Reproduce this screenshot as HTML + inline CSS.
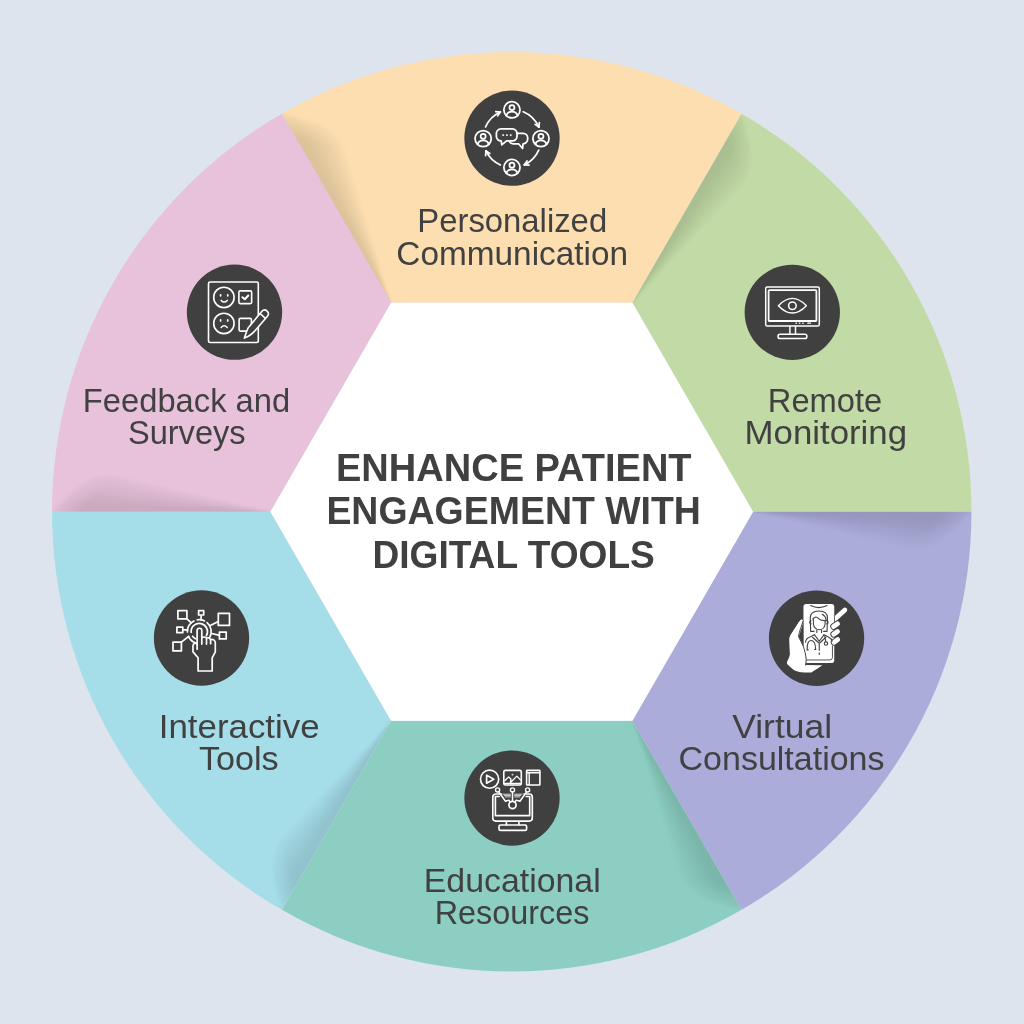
<!DOCTYPE html>
<html><head><meta charset="utf-8"><title>Enhance Patient Engagement with Digital Tools</title>
<style>
html,body{margin:0;padding:0;background:#dde4ed;}
body{width:1024px;height:1024px;overflow:hidden;font-family:"Liberation Sans",sans-serif;}
svg{display:block;will-change:transform}
.lbl text{font-family:"Liberation Sans",sans-serif;font-size:32.5px;fill:#414141;text-anchor:middle}
.ttl text{font-family:"Liberation Sans",sans-serif;font-size:39px;font-weight:700;fill:#404040;text-anchor:middle}
.ic{fill:none;stroke:#fff;stroke-linecap:round;stroke-linejoin:round}
</style></head><body>
<svg width="1024" height="1024" viewBox="0 0 1024 1024">
<defs>
<linearGradient id="shm" gradientUnits="userSpaceOnUse" x1="972" y1="512" x2="957.6" y2="498.1">
<stop offset="0" stop-color="#fff" stop-opacity="0.25"/><stop offset="1" stop-color="#fff" stop-opacity="1"/>
</linearGradient>
<mask id="shmask" maskUnits="userSpaceOnUse" x="700" y="440" width="320" height="160"><rect x="700" y="440" width="320" height="160" fill="url(#shm)"/></mask>
<filter id="blur" x="-20%" y="-50%" width="140%" height="200%"><feGaussianBlur stdDeviation="1.7"/></filter>
<clipPath id="ring"><circle cx="511.75" cy="511.75" r="459.7"/></clipPath>
<clipPath id="half"><rect x="700" y="512" width="300" height="80"/></clipPath>
<clipPath id="redge"><path d="M973,511 L952,531.5 Q933,550 910,549.5 L700,600 L700,470 L990,470 Z"/></clipPath>
<g id="sh" clip-path="url(#half)"><g filter="url(#blur)"><g mask="url(#shmask)" clip-path="url(#redge)" fill="#000" fill-opacity="0.0176"><polygon points="754,512 754,470 1000,470 1000,524.89"/><polygon points="754,512 754,470 1000,470 1000,529.78"/><polygon points="754,512 754,470 1000,470 1000,534.68"/><polygon points="754,512 754,470 1000,470 1000,539.59"/><polygon points="754,512 754,470 1000,470 1000,544.53"/><polygon points="754,512 754,470 1000,470 1000,549.50"/><polygon points="754,512 754,470 1000,470 1000,554.49"/><polygon points="754,512 754,470 1000,470 1000,559.52"/><polygon points="754,512 754,470 1000,470 1000,564.59"/><polygon points="754,512 754,470 1000,470 1000,569.70"/></g></g></g>
</defs>
<rect width="1024" height="1024" fill="#dde4ed"/>
<path d="M391.10,302.78 L281.90,113.64 A459.7,459.7 0 0 1 741.60,113.64 L632.40,302.78 Z" fill="#fcdeb0"/><path d="M632.40,302.78 L741.60,113.64 A459.7,459.7 0 0 1 971.45,511.75 L753.05,511.75 Z" fill="#c2daa5"/><path d="M753.05,511.75 L971.45,511.75 A459.7,459.7 0 0 1 741.60,909.86 L632.40,720.72 Z" fill="#abacda"/><path d="M632.40,720.72 L741.60,909.86 A459.7,459.7 0 0 1 281.90,909.86 L391.10,720.72 Z" fill="#8ccfc2"/><path d="M391.10,720.72 L281.90,909.86 A459.7,459.7 0 0 1 52.05,511.75 L270.45,511.75 Z" fill="#a5dde9"/><path d="M270.45,511.75 L52.05,511.75 A459.7,459.7 0 0 1 281.90,113.64 L391.10,302.78 Z" fill="#e7c2da"/>
<g clip-path="url(#ring)"><use href="#sh" transform="rotate(0 511.75 511.75) translate(-0.25 -0.25)"/><use href="#sh" transform="rotate(60 511.75 511.75) translate(-0.25 -0.25)"/><use href="#sh" transform="rotate(120 511.75 511.75) translate(-0.25 -0.25)"/><use href="#sh" transform="rotate(180 511.75 511.75) translate(-0.25 -0.25)"/><use href="#sh" transform="rotate(240 511.75 511.75) translate(-0.25 -0.25)"/><use href="#sh" transform="rotate(300 511.75 511.75) translate(-0.25 -0.25)"/></g>
<polygon points="753.05,511.75 632.40,720.72 391.10,720.72 270.45,511.75 391.10,302.78 632.40,302.78" fill="#ffffff"/>
<g class="ttl"><text x="513.8" y="480.8" textLength="355.6" lengthAdjust="spacingAndGlyphs">ENHANCE PATIENT</text><text x="513.65" y="524.4" textLength="374.5" lengthAdjust="spacingAndGlyphs">ENGAGEMENT WITH</text><text x="513.65" y="567.9" textLength="282.4" lengthAdjust="spacingAndGlyphs">DIGITAL TOOLS</text></g>
<g class="lbl"><text x="512.23" y="232.05" textLength="189.83" lengthAdjust="spacingAndGlyphs">Personalized</text><text x="512.23" y="264.75" textLength="231.75" lengthAdjust="spacingAndGlyphs">Communication</text><text x="825.05" y="412.4" textLength="114.52" lengthAdjust="spacingAndGlyphs">Remote</text><text x="825.8" y="443.5" textLength="162.6" lengthAdjust="spacingAndGlyphs">Monitoring</text><text x="782.17" y="737.8" textLength="99.9" lengthAdjust="spacingAndGlyphs">Virtual</text><text x="781.52" y="769.5" textLength="205.93" lengthAdjust="spacingAndGlyphs">Consultations</text><text x="512.23" y="892.45" textLength="177.01" lengthAdjust="spacingAndGlyphs">Educational</text><text x="512.0" y="923.55" textLength="154.69" lengthAdjust="spacingAndGlyphs">Resources</text><text x="239.18" y="738.0" textLength="160.85" lengthAdjust="spacingAndGlyphs">Interactive</text><text x="238.8" y="770.0" textLength="79.71" lengthAdjust="spacingAndGlyphs">Tools</text><text x="186.53" y="412.3" textLength="207.29" lengthAdjust="spacingAndGlyphs">Feedback and</text><text x="186.78" y="444.4" textLength="117.73" lengthAdjust="spacingAndGlyphs">Surveys</text></g>
<g id="icons">
<g transform="translate(512,138.2)"><circle r="47.65" fill="#404040"/><g class="ic" stroke-width="1.75" transform="translate(0.15,0.3)"><g transform="translate(-0.2,-28.7)"><circle r="8.1"/><circle cy="-2.3" r="2.5"/><path d="M-5.6,5.8 A5.8,5.4 0 0 1 5.6,5.8"/></g><g transform="translate(28.8,0.1)"><circle r="8.1"/><circle cy="-2.3" r="2.5"/><path d="M-5.6,5.8 A5.8,5.4 0 0 1 5.6,5.8"/></g><g transform="translate(-0.2,29.0)"><circle r="8.1"/><circle cy="-2.3" r="2.5"/><path d="M-5.6,5.8 A5.8,5.4 0 0 1 5.6,5.8"/></g><g transform="translate(-29.0,0.1)"><circle r="8.1"/><circle cy="-2.3" r="2.5"/><path d="M-5.6,5.8 A5.8,5.4 0 0 1 5.6,5.8"/></g><path d="M-26.59,-11.56 A29.0,29.0 0 0 1 -11.80,-26.49"/><path d="M-11.80,-26.49 L-14.50,-22.77"/><path d="M-11.80,-26.49 L-16.37,-26.97"/><path d="M11.10,-26.79 A29.0,29.0 0 0 1 26.69,-11.33"/><path d="M26.69,-11.33 L23.02,-14.10"/><path d="M26.69,-11.33 L27.26,-15.90"/><path d="M26.59,11.56 A29.0,29.0 0 0 1 12.26,26.28"/><path d="M12.26,26.28 L14.89,22.51"/><path d="M12.26,26.28 L16.84,26.68"/><path d="M-11.80,26.49 A29.0,29.0 0 0 1 -26.17,12.48"/><path d="M-26.17,12.48 L-22.38,15.09"/><path d="M-26.17,12.48 L-26.54,17.07"/><path d="M-11.2,-9.6 H0.3 A4.6,4.6 0 0 1 4.9,-5 V-2.2 A4.6,4.6 0 0 1 0.3,2.4 H-5.6 L-10.4,6.4 L-10.9,2.4 H-11.2 A4.6,4.6 0 0 1 -15.8,-2.2 V-5 A4.6,4.6 0 0 1 -11.2,-9.6 Z"/><path d="M4.7,-5.2 H11 A4.5,4.5 0 0 1 15.5,-0.7 V0.8 A4.5,4.5 0 0 1 11,5.3 H10.9 L10.4,10 L6.4,5.3 H1 A4.5,4.5 0 0 1 -2.6,3.2"/><circle cx="-9.1" cy="-3.4" r="0.55" fill="#fff" stroke-width="0.7"/><circle cx="-5.3" cy="-3.4" r="0.55" fill="#fff" stroke-width="0.7"/><circle cx="-1.5" cy="-3.4" r="0.55" fill="#fff" stroke-width="0.7"/></g></g>
<g transform="translate(792.3,312.3)"><circle r="47.65" fill="#404040"/><g class="ic" stroke-width="1.5"><rect x="-26.6" y="-25.4" width="53.6" height="39.2" rx="1.6"/><rect x="-23.7" y="-22.2" width="47.8" height="30.9" rx="0.8" stroke-width="1.8"/><path d="M-13.9,-6.6 Q0,-21.2 14.1,-6.6 Q0,8 -13.9,-6.6 Z" stroke-width="1.4"/><circle cx="0.1" cy="-6.6" r="3.8" stroke-width="1.5"/><path d="M-2.4,14 V21.6 M3.2,14 V21.6"/><rect x="-14.3" y="22" width="28.9" height="4.2" rx="2.1"/><path d="M3.6,10.9 H4.2 M7,10.9 H7.6 M10.4,10.9 H11 M15.5,10.9 H18.2" stroke-width="1.2"/></g></g>
<g transform="translate(816.55,638.25)"><circle r="47.65" fill="#404040"/><path d="M17,-18 L28.3,-28.3" stroke="#fff" stroke-width="4.8" stroke-linecap="round" fill="none"/><path d="M-14.6,-18.8 C-15.6,-18.6 -16.5,-17.8 -17.4,-16.4 L-26.2,-2.8 C-26.9,-1.6 -27.1,-0.2 -27.1,1.3 L-26.6,16.2 C-26.7,19 -28.6,21.6 -29.6,24.2 C-29.8,25.2 -29.2,26 -28.4,26.8 C-26.5,28.9 -24.5,30.6 -22.3,31.9 C-17,34.2 -10.5,34.5 -5.2,34.2 C-1,31.6 2.6,29.4 5.8,27.1 L-10.6,26.7 L-8,10 L-13,-15 Z" fill="#fff"/><rect x="-13.1" y="-34.2" width="30.8" height="58.9" rx="2.8" fill="#fff" stroke="#404040" stroke-width="1.6" paint-order="stroke"/><path d="M-14.6,-18.8 C-15.6,-18.6 -16.5,-17.8 -17.4,-16.4 L-26.2,-2.8 C-26.9,-1.6 -27.1,-0.2 -27.1,1.3 L-26.6,16.2 C-26.7,19 -28.6,21.6 -29.6,24.2 L-22,30 L-11,27.2 L-10.3,21.6 C-10.8,16 -11.9,12 -13.2,8.2 C-14.6,4.6 -16.6,1.4 -18.1,-1.8 C-17,-7 -15.2,-12 -13.6,-16.8 C-13.5,-18 -13.9,-18.8 -14.6,-18.8 Z" fill="#fff"/><path d="M-13.4,-17.4 C-15.2,-12 -17,-7 -18.1,-1.8 C-16.6,1.4 -14.6,4.6 -13.2,8.2 C-11.9,12 -10.8,16 -10.3,21.6 L-10.9,26.9" fill="none" stroke="#404040" stroke-width="1" stroke-linecap="round"/><path d="M-13.2,-15.5 L-17.8,-1.8 L-13.2,7.6 Z" fill="#404040"/><path d="M-10.6,25.6 H4" stroke="#404040" stroke-width="0.5" fill="none"/><path d="M17.0,-11.8 L21.0,-14.5" stroke="#404040" stroke-width="6.6" stroke-linecap="round" fill="none"/><path d="M17.1,-4.0 L21.0,-6.7" stroke="#404040" stroke-width="6.6" stroke-linecap="round" fill="none"/><path d="M17.5,4.0 L21.2,1.3" stroke="#404040" stroke-width="6.6" stroke-linecap="round" fill="none"/><path d="M17.0,-11.8 L21.0,-14.5" stroke="#fff" stroke-width="4.8" stroke-linecap="round" fill="none"/><path d="M17.1,-4.0 L21.0,-6.7" stroke="#fff" stroke-width="4.8" stroke-linecap="round" fill="none"/><path d="M17.5,4.0 L21.2,1.3" stroke="#fff" stroke-width="4.8" stroke-linecap="round" fill="none"/><g fill="none" stroke="#404040" stroke-width="1.1" stroke-linecap="round" stroke-linejoin="round"><path d="M-5.9,-32.7 Q2.3,-28.6 10.5,-32.7"/><path d="M-9.8,21.7 H13.4 Q15.9,21.6 15.9,19.2 V7.8" stroke-width="0.9"/><path d="M-2.5,-6.9 H-5.9 L-6.3,-20.4 C-6.2,-25.4 -2.5,-27.3 2.6,-27.3 C7.6,-27.3 10.9,-25 10.9,-20.4 L10.5,-6.9 H7"/><path d="M-3.3,-19.5 L-3.1,-14 C-2.8,-10.2 0.3,-8.5 2.7,-8.5 C5.2,-8.5 8.2,-10.2 8.5,-14 L8.6,-17.6"/><path d="M-3.6,-19.4 C-1.5,-22 0.5,-21.6 2,-19.6 C4,-17.4 7,-17.4 9.8,-17.8"/><path d="M5.6,-24 C8,-22.8 9.3,-20.6 9.6,-18.4"/><path d="M-5.6,-17.4 C-7.4,-17.6 -7.4,-14.4 -5.4,-14.4 M10.3,-17.4 C12,-17.6 12,-14.4 10.2,-14.4"/><path d="M0.3,-8.3 V-5.8 M5,-8.3 V-5.8"/><path d="M-11,4 C-10.8,0.5 -9,-0.4 -6,-1.4 L-2,-3.4 M7.4,-3.4 L12,-1.2 C14,-0.2 15.2,1 15.4,3"/><path d="M-2,-3.4 L2.7,3 L7.4,-3.4 M-4,-1 L2,4.5 M9.3,-1 L3.5,4.5"/><path d="M2.7,4.6 V12 M2.7,14.5 V16.2"/><path d="M-9.4,11.6 C-9.6,6 -8.4,2.2 -5.5,2.2 C-2.6,2.2 -1,6 -0.9,11.2 M-9.6,11.6 H-8.2 M-2,11.2 H-0.6"/><path d="M8.2,-2.5 L9.2,3.4"/><circle cx="9.4" cy="5.3" r="1.7"/></g></g>
<g transform="translate(512,798.1)"><circle r="47.65" fill="#404040"/><g class="ic" stroke-width="1.65"><circle cx="-22.4" cy="-18.9" r="9.1"/><path d="M-25.4,-23 V-14.8 L-18.2,-18.9 Z"/><rect x="-8.2" y="-27.7" width="17.5" height="14.6" rx="1.5" stroke-width="1.6"/><path d="M-7,-17.6 L-3.3,-21.2 L-1,-18.8 L-1.6,-16 M-1.2,-15.9 L4.9,-22 L8.4,-18.2 M-7.4,-14.6 H8.6" stroke-width="1.3"/><circle cx="0.3" cy="-23.4" r="0.5" fill="#fff" stroke-width="0.6"/><rect x="14.6" y="-27.7" width="13.3" height="14.6" rx="0.6" stroke-width="1.6"/><path d="M14.8,-25.4 H27.8 M17.2,-25.2 V-13.3" stroke-width="1.4"/><circle cx="-14.4" cy="-8.2" r="2.05" stroke-width="1.4"/><circle cx="0.5" cy="-8.2" r="2.05" stroke-width="1.4"/><circle cx="15.6" cy="-8.2" r="2.05" stroke-width="1.4"/><path d="M-13.1,-5.9 L-6.5,3.2 L-3.1,2 L-1.9,4 M0.5,-6 V3 M14.4,-5.9 L7.9,3.2 L4.3,2 L3,4" stroke-width="1.5"/><circle cx="0.5" cy="6.9" r="3.6" stroke-width="1.7"/><path d="M-10.6,-4.1 H-16.2 A3,3 0 0 0 -19.2,-1.1 V20 A3,3 0 0 0 -16.2,23 H17.3 A3,3 0 0 0 20.3,20 V-1.1 A3,3 0 0 0 17.3,-4.1 H12"/><path d="M-12.8,-1.6 H-16.6 V17.6 H17.7 V-1.6 H14.2"/><path d="M-9,-3.9 H-1.6 M-7.9,-2.7 H-1.6 M-6.8,-1.2 H-1.6 M2.6,-3.9 H10 M2.6,-2.7 H8.9 M2.6,-1.2 H7.8" stroke-width="0.8"/><path d="M-5.6,23.4 V26.6 M6.9,23.4 V26.6"/><rect x="-13" y="26.9" width="27.6" height="5.4" rx="1.5"/></g></g>
<g transform="translate(201.5,638)"><circle r="47.65" fill="#404040"/><g class="ic" stroke-width="1.7" stroke-linecap="butt" stroke-linejoin="miter"><rect x="-23.6" y="-27.4" width="9.00" height="8.30"/><rect x="-2.9" y="-27.4" width="5.10" height="4.40"/><rect x="16.8" y="-24.7" width="11.20" height="12.10"/><rect x="-24.6" y="-10.9" width="5.90" height="5.60"/><rect x="17.9" y="-5.9" width="6.80" height="6.80"/><rect x="-28.5" y="4.1" width="8.40" height="8.80"/><path d="M-14.6,-19.1 L-10.2,-15.2 M-0.4,-22.2 V-18 M16.8,-16.6 L8.3,-12.3 M-18.7,-8.1 H-13.9 M17.9,-2.7 L10.3,-4.5 M-20.1,4.1 L-12.8,-1.6"/><path d="M-14.09,-5.98 A11.9,11.9 0 0 1 -7.60,-17.00 M-4.27,-18.12 A11.9,11.9 0 0 1 3.02,-17.10 M5.61,-15.38 A11.9,11.9 0 0 1 8.31,-0.81 M-6.27,4.78 A11.9,11.9 0 0 1 -13.07,-1.56"/><path d="M-10.37,-5.69 A8.2,8.2 0 1 1 4.90,-2.30 M-6.05,0.84 A8.2,8.2 0 0 1 -8.92,-1.70"/><path d="M-4.4,11.2 V-7.4 A2.35,2.35 0 0 1 0.3,-7.4 V6.1" stroke-linecap="round"/><path d="M0.3,0 C1,-1.4 4.2,-1.4 5,0.4 V6.1 M5,0.6 C5.8,-0.8 8.4,-0.4 9.1,1.6 V5.7 M9.1,1.8 C10.6,0.8 13.4,1.8 13.8,4.5 V13.9 L10.7,19.8 V33 H-3.4 V19.8 L-8.5,13.9 V7.7 C-8.4,5.2 -5.6,4.4 -4.4,6.2" stroke-linejoin="round"/></g></g>
<g transform="translate(234.5,312.2)"><circle r="47.65" fill="#404040"/><g class="ic" stroke-width="1.6"><rect x="-26" y="-30.2" width="49.8" height="60.5" rx="1.6"/><circle cx="-10.6" cy="-14.8" r="10.2"/><path d="M-13.3,-11.8 Q-10.4,-8.4 -7.3,-11.8" stroke-width="1.5"/><path d="M-13.9,-17.4 V-16.4 M-6.75,-17.4 V-16.4" stroke-width="1.7"/><circle cx="-10.6" cy="11.2" r="10.2"/><path d="M-13.3,15.2 Q-10.4,11.8 -7.3,15.2" stroke-width="1.5"/><path d="M-13.9,7.7 V8.7 M-6.75,7.7 V8.7" stroke-width="1.7"/><rect x="4.4" y="-21.3" width="12.75" height="12.75" rx="1.3"/><path d="M7.9,-15 L10.3,-12.9 L13.8,-16.7" stroke-width="2"/><rect x="4.6" y="6.2" width="12.3" height="12.7" rx="1.3"/><path d="M9.85,25.9 C11,23.2 11.6,20 13.6,15.8 L27.46,-0.98 A3.7,3.7 0 0 1 32.94,3.98 L21.6,17.4 C18,21.6 13.4,24.6 9.85,25.9 Z" fill="#404040" stroke-width="1.6"/><path d="M26.3,2 L30.6,6"/></g></g>
</g>
</svg>
</body></html>
